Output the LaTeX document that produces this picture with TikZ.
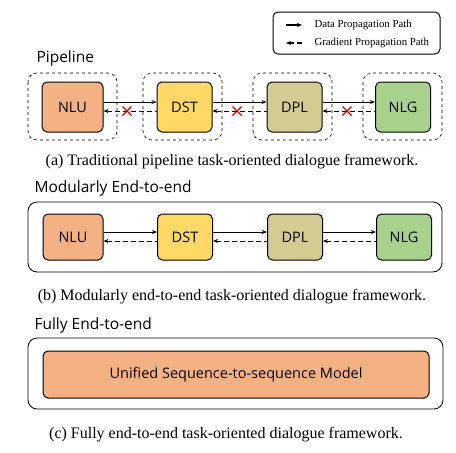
\documentclass[tikz,border=0pt]{standalone}
\usepackage{fontspec}
\setmainfont{Liberation Serif}
\newfontfamily\boxfont{Open Sans}
\usetikzlibrary{arrows.meta}
\usetikzlibrary{positioning}
\definecolor{nluorange}{HTML}{F4B183}
\definecolor{dstyellow}{HTML}{FFD966}
\definecolor{dplkhaki}{HTML}{D3CB91}
\definecolor{nlggreen}{HTML}{A9D18E}

\begin{document}
\begin{tikzpicture}[x=1pt,y=-1pt,>={Stealth[length=5pt,width=4pt]}]

\tikzset{module/.style={draw,line width=1pt,rounded corners=5pt,minimum height=50pt,
  minimum width=55pt,font=\boxfont\fontsize{14.5}{16}\selectfont,inner sep=0pt}}
\tikzset{stage/.style={draw,dashed,rounded corners=9pt,line width=0.6pt}}
\tikzset{frame/.style={draw,line width=0.8pt,rounded corners=9pt}}
\tikzset{title/.style={anchor=west,font=\boxfont\fontsize{15.5}{18}\selectfont}}
\tikzset{caption/.style={font=\fontsize{16}{18}\selectfont}}
\tikzset{data/.style={->,line width=0.9pt}}
\tikzset{grad/.style={<-,dashed,line width=0.9pt,dash pattern=on 5pt off 3pt}}

\useasboundingbox (0,0) rectangle (456,453);

%legend
\draw[line width=1pt,rounded corners=5pt] (273,12) rectangle (440,54);
\coordinate (d1) at (286,25);
\coordinate (d2) at (302,25);
\coordinate (g1) at (286,43);
\coordinate (g2) at (302,43);
\draw[data,line width=1.1pt] (d1)--(d2);
\draw[grad,line width=1.1pt] (g1)--(g2);
\node [anchor=west,font=\fontsize{10.8}{13}\selectfont] at (311,25) {Data Propagation Path};
\node [anchor=west,font=\fontsize{10.8}{13}\selectfont] at (311,43) {Gradient Propagation Path};

%pipeline
\node [title] (t1) at (33,58) {Pipeline};
\draw[stage] (28,73) rectangle (117,140);
\draw[stage] (143,73) rectangle (222,140);
\draw[stage] (253,73) rectangle (332,140);
\draw[stage] (363,73) rectangle (442,140);

\node [module,fill=nluorange,minimum width=61pt] (nlu1) at (72.5,107) {NLU};
\node [module,fill=dstyellow] (dst1) at (184.5,107) {DST};
\node [module,fill=dplkhaki] (dpl1) at (294.5,107) {DPL};
\node [module,fill=nlggreen] (nlg1) at (403,107) {NLG};

\foreach \a/\b/\c in {nlu1/dst1/127,dst1/dpl1/237,dpl1/nlg1/347}{
  \draw[data] ([yshift=5pt]\a.east)--([yshift=5pt]\b.west);
  \draw[grad] ([yshift=-4pt]\a.east)--([yshift=-4pt]\b.west);
  \draw[red!80!black,line width=1.4pt] (\c-4.5,106.5) -- (\c+4.5,115.5) (\c-4.5,115.5) -- (\c+4.5,106.5);
}

\node [caption] (c1) at (232,162) {(a) Traditional pipeline task-oriented dialogue framework.};

%modularly end-to-end
\node [title] (t2) at (31,188) {Modularly End-to-end};
\draw[frame] (28,202) rectangle (442,272);

\node [module,fill=nluorange,minimum width=60pt,minimum height=46pt] (nlu2) at (73,237) {NLU};
\node [module,fill=dstyellow,minimum height=46pt] (dst2) at (185,237) {DST};
\node [module,fill=dplkhaki,minimum height=46pt] (dpl2) at (295,237) {DPL};
\node [module,fill=nlggreen,minimum height=46pt] (nlg2) at (404,237) {NLG};

\foreach \a/\b in {nlu2/dst2,dst2/dpl2,dpl2/nlg2}{
  \draw[data] ([yshift=5pt]\a.east)--([yshift=5pt]\b.west);
  \draw[grad] ([yshift=-4pt]\a.east)--([yshift=-4pt]\b.west);
}

\node [caption] (c2) at (232,297) {(b) Modularly end-to-end task-oriented dialogue framework.};

%fully end-to-end
\node [title] (t3) at (31,325) {Fully End-to-end};
\draw[frame] (28,338) rectangle (443,409);
\node [module,fill=nluorange,minimum width=386pt,minimum height=47pt] (seq) at (236,374.5) {Unified Sequence-to-sequence Model};

\node [caption] (c3) at (226,435) {(c) Fully end-to-end task-oriented dialogue framework.};

\end{tikzpicture}
\end{document}
